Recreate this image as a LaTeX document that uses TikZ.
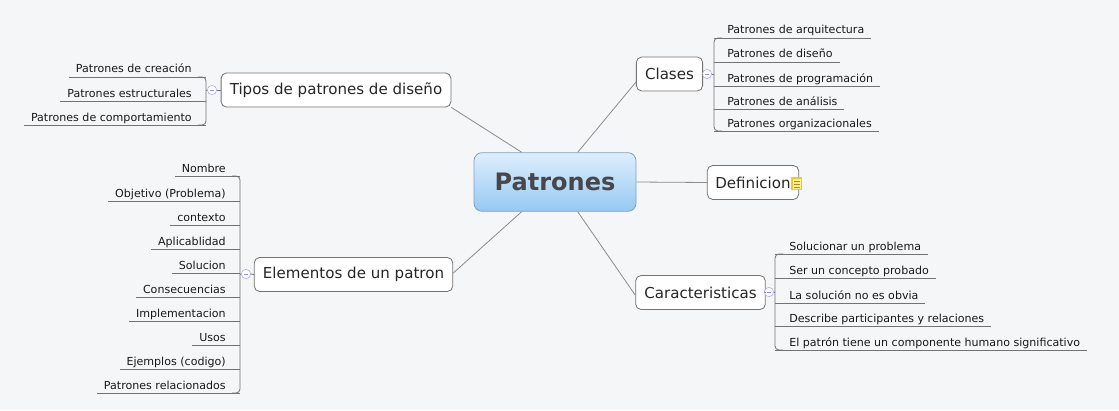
\documentclass[tikz,border=0pt]{standalone}
\usepackage{fontspec}
\setmainfont{DejaVu Sans}
\begin{document}
\begin{tikzpicture}[x=0.75pt,y=-0.75pt,
  conn/.style={draw=black!45, line width=0.6pt},
  br/.style={draw=black!55, line width=0.6pt},
  topic/.style={draw=black!55, fill=white, rounded corners=4pt, line width=0.6pt, font=\fontsize{11.3}{13}\selectfont, inner xsep=6.5pt, minimum height=25.5pt, text=black!85},
  leaf/.style={inner sep=0pt, font=\fontsize{8.3}{10}\selectfont, text=black!90},
  tog/.style={circle, draw=blue!35, fill=white, inner sep=0pt, minimum size=7pt}]
\fill[color={rgb,255:red,245;green,246;blue,248}] (0,0) rectangle (1119,410);
\useasboundingbox (0,0) rectangle (1119,410);
% central
\node[rounded corners=6pt, draw={rgb,255:red,130;green,160;blue,190}, line width=0.6pt,
  top color={rgb,255:red,222;green,239;blue,253}, bottom color={rgb,255:red,150;green,200;blue,242},
  minimum width=121.5pt, minimum height=44pt, font=\fontsize{18}{20}\bfseries,
  text={rgb,255:red,70;green,70;blue,75}] (c) at (555,182) {Patrones};
% topics
\node[topic] (tipos) at (336,90) {Tipos de patrones de diseño};
\node[topic] (elem) at (353.5,274.5) {Elementos de un patron};
\node[topic] (clases) at (669.5,74) {Clases};
\node[topic] (car) at (700.5,292.5) {Caracteristicas};
\node[topic, inner xsep=6pt] (def) at (753,182.5) {Definicion\hspace{15pt}};
% note icon
\fill[color={rgb,255:red,240;green,200;blue,40}] (791,177) rectangle (802,190);
\fill[color={rgb,255:red,255;green,240;blue,150}] (792.5,178.5) rectangle (800.5,188.5);
\foreach \yy in {181,184,187} \draw[color={rgb,255:red,180;green,140;blue,20}, line width=0.4pt] (793.5,\yy) -- (799.5,\yy);
% main connectors
\draw[conn] (c.north west) ++(48,0) coordinate (c1);
\draw[conn] ([xshift=36pt]c.north west) -- (tipos.south east);
\draw[conn] ([xshift=-44pt]c.north east) -- ([yshift=-6pt]clases.west);
\draw[conn] ([xshift=36pt]c.south west) -- ([yshift=1pt]elem.east);
\draw[conn] ([xshift=-44pt]c.south east) -- ([yshift=-2pt]car.west);
\draw[conn] (c.east) -- (def.west);
% toggles
\node[tog] (tc) at (707,74) {};
\node[tog] (tk) at (769,292) {};
\node[tog] (tt) at (212,90) {};
\node[tog] (te) at (246,274) {};
\foreach \t in {tc,tk,tt,te} \draw[blue!45, line width=0.5pt] ([xshift=-1.8pt]\t.center) -- ([xshift=1.8pt]\t.center);
\draw[br] (clases.east) -- (tc.west); \draw[br] (car.east) -- (tk.west);
\draw[br] (tipos.west) -- (tt.east); \draw[br] (elem.west) -- (te.east);
% right brackets
\coordinate (bc) at (714,74); \coordinate (bk) at (775,292);
\draw[br] (tc.east) -- (bc); \draw[br] (tk.east) -- (bk);
\draw[br, rounded corners=3pt] (722,38) -- (714,38) -- (714,131) -- (722,131);
\foreach \n/\y/\t in {1/38/{Patrones de arquitectura},2/62/{Patrones de diseño},3/86/{Patrones de programación},4/109/{Patrones de análisis},5/131/{Patrones organizacionales}}{
  \node[leaf, anchor=base west] (cl\n) at (727,\y-4) {\t};
  \draw[br] (714,\y) -- ([xshift=5pt]cl\n.east |- 0,\y);}
\draw[br, rounded corners=3pt] (783,254) -- (775,254) -- (775,350) -- (783,350);
\foreach \n/\y/\t in {1/254/{Solucionar un problema},2/278/{Ser un concepto probado},3/303/{La solución no es obvia},4/326/{Describe participantes y relaciones},5/350/{El patrón tiene un componente humano significativo}}{
  \node[leaf, anchor=base west] (ck\n) at (789,\y-4) {\t};
  \draw[br] (775,\y) -- ([xshift=5pt]ck\n.east |- 0,\y);}
% left brackets
\coordinate (bt) at (206,90); \coordinate (be) at (240,274);
\draw[br] (tt.west) -- (bt); \draw[br] (te.west) -- (be);
\draw[br, rounded corners=3pt] (198,77) -- (206,77) -- (206,125) -- (198,125);
\foreach \n/\y/\t in {1/77/{Patrones de creación},2/101/{Patrones estructurales},3/125/{Patrones de comportamiento}}{
  \node[leaf, anchor=base east] (ct\n) at (192,\y-4) {\t};
  \draw[br] (206,\y) -- ([xshift=-5pt]ct\n.west |- 0,\y);}
\draw[br, rounded corners=3pt] (232,176) -- (240,176) -- (240,393) -- (232,393);
\foreach \n/\y/\t in {1/176/{Nombre},2/201/{Objetivo (Problema)},3/225/{contexto},4/249/{Aplicablidad},5/273/{Solucion},6/297/{Consecuencias},7/321/{Implementacion},8/345/{Usos},9/369/{Ejemplos (codigo)},10/393/{Patrones relacionados}}{
  \node[leaf, anchor=base east] (ce\n) at (226,\y-4) {\t};
  \draw[br] (240,\y) -- ([xshift=-5pt]ce\n.west |- 0,\y);}
\end{tikzpicture}
\end{document}
